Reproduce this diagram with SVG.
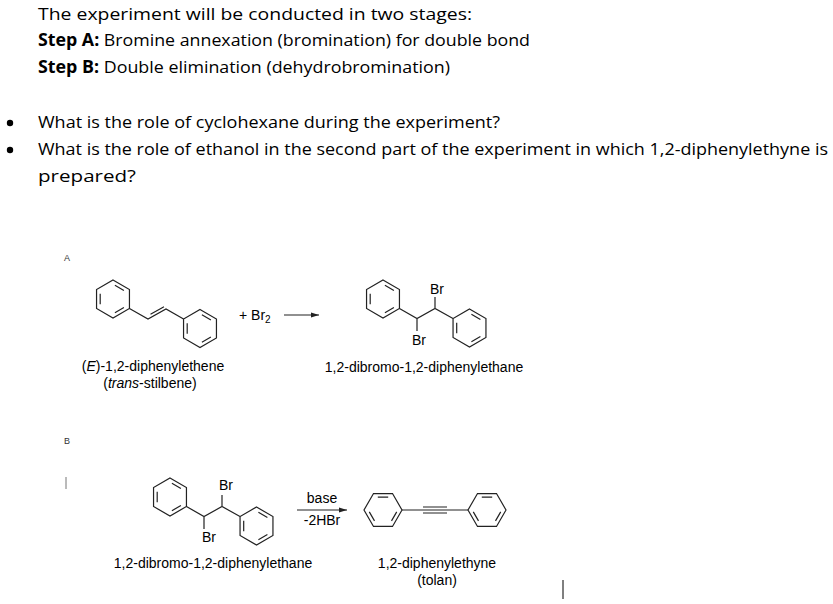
<svg xmlns="http://www.w3.org/2000/svg" xmlns:xlink="http://www.w3.org/1999/xlink" width="833" height="604" viewBox="0 0 833 604">
<style>
.t{font-family:"Open Sans","Liberation Sans",sans-serif;font-size:17px;fill:#000}
.c{font-family:"Liberation Sans",Arial,sans-serif;font-size:14px;fill:#000}
.s{font-family:"Liberation Sans",Arial,sans-serif;font-size:9px;fill:#333}
.b{stroke:#222;stroke-width:1.2;fill:none}
</style>
<defs>
<g id="ring" class="b">
<polygon points="0,-19 16.45,-9.5 16.45,9.5 0,19 -16.45,9.5 -16.45,-9.5"/>
<path d="M1.9,-13.7L10.9,-8.5M10.9,8.5L1.9,13.7M-12.8,5.2L-12.8,-5.2"/>
</g>
<marker id="ah" markerWidth="8" markerHeight="6" refX="8" refY="3" orient="auto" markerUnits="userSpaceOnUse"><path d="M0,0.5L8,3L0,5.5z" fill="#222"/></marker>
</defs>
<g id="text">
<text class="t" x="38" y="20" textLength="434" lengthAdjust="spacingAndGlyphs">The experiment will be conducted in two stages:</text>
<text class="t" x="38" y="46" textLength="492" lengthAdjust="spacingAndGlyphs"><tspan font-weight="bold">Step A:</tspan> Bromine annexation (bromination) for double bond</text>
<text class="t" x="38" y="73" textLength="412" lengthAdjust="spacingAndGlyphs"><tspan font-weight="bold">Step B:</tspan> Double elimination (dehydrobromination)</text>
<circle cx="10" cy="123" r="3.2"/><circle cx="10" cy="150" r="3.2"/>
<text class="t" x="38" y="128" textLength="462" lengthAdjust="spacingAndGlyphs">What is the role of cyclohexane during the experiment?</text>
<text class="t" x="38" y="155" textLength="790" lengthAdjust="spacingAndGlyphs">What is the role of ethanol in the second part of the experiment in which 1,2-diphenylethyne is</text>
<text class="t" x="38" y="182" textLength="98" lengthAdjust="spacingAndGlyphs">prepared?</text>
<text class="s" x="64" y="261">A</text>
<text class="s" x="64" y="444">B</text>
<line x1="66" y1="477" x2="66" y2="489" stroke="#777"/>
<line x1="563" y1="580" x2="563" y2="599" stroke="#000"/>
</g>
<g id="stilbene">
<use xlink:href="#ring" x="113" y="299"/>
<use xlink:href="#ring" x="200" y="328.5"/>
<path class="b" d="M129.45,308.5L148,319L166,309L183.55,319M150.5,314.2L164,306.7"/>
<text class="c" x="153" y="371" text-anchor="middle">(<tspan font-style="italic">E</tspan>)-1,2-diphenylethene</text>
<text class="c" x="150" y="388" text-anchor="middle">(<tspan font-style="italic">trans</tspan>-stilbene)</text>
</g>
<g id="br2"><text class="c" x="239" y="320">+ Br<tspan font-size="10" dy="3">2</tspan></text></g>
<g id="dibromoA">
<use xlink:href="#ring" x="383" y="299"/>
<use xlink:href="#ring" x="469.5" y="328"/>
<path class="b" d="M399.45,308.5L417,318.5L435,308.5L453,318.5M435,308.5V297M417,318.5V331"/>
<text class="c" x="437" y="294" text-anchor="middle">Br</text>
<text class="c" x="419" y="345" text-anchor="middle">Br</text>
<text class="c" x="424" y="372" text-anchor="middle">1,2-dibromo-1,2-diphenylethane</text>
</g>
<g id="dibromoB">
<use xlink:href="#ring" x="170" y="497"/>
<use xlink:href="#ring" x="256.5" y="526"/>
<path class="b" d="M186.45,506.5L204,516.5L222,506.5L240,516.5M222,506.5V495M204,516.5V529"/>
<text class="c" x="226" y="490" text-anchor="middle">Br</text>
<text class="c" x="209" y="542" text-anchor="middle">Br</text>
<text class="c" x="213" y="568" text-anchor="middle">1,2-dibromo-1,2-diphenylethane</text>
</g>
<g id="tolan">
<use xlink:href="#ring" transform="translate(383,510) rotate(90)"/>
<use xlink:href="#ring" transform="translate(487,510) rotate(90)"/>
<path class="b" d="M402,510H468M423,507H447M423,513H447"/>
<text class="c" x="437" y="568" text-anchor="middle">1,2-diphenylethyne</text>
<text class="c" x="437" y="585" text-anchor="middle">(tolan)</text>
</g>
<g id="connectors">
<line class="b" x1="284" y1="315" x2="319" y2="315" marker-end="url(#ah)"/>
<line class="b" x1="297" y1="510" x2="347" y2="510" marker-end="url(#ah)"/>
<text class="c" x="322" y="503" text-anchor="middle">base</text>
<text class="c" x="322" y="525" text-anchor="middle">-2HBr</text>
</g>
</svg>
